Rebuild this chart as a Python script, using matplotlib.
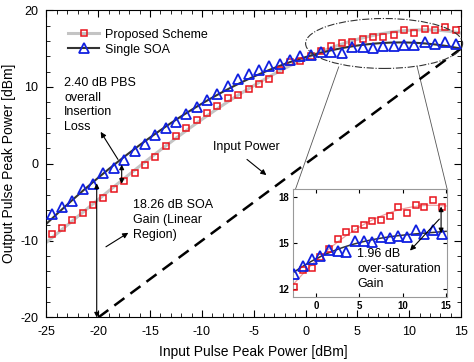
import numpy as np
import matplotlib
matplotlib.use("Agg")
import matplotlib.pyplot as plt
from matplotlib.patches import Ellipse
from matplotlib.lines import Line2D
from matplotlib.ticker import MultipleLocator

plt.rcParams['font.family'] = ['Liberation Sans', 'DejaVu Sans']
plt.rcParams['axes.unicode_minus'] = False

## data
p_in = [-24.5, -23.5, -22.5, -21.5, -20.5, -19.5, -18.5, -17.5, -16.5, -15.5,
        -14.5, -13.5, -12.5, -11.5, -10.5, -9.5, -8.5, -7.5, -6.5, -5.5,
        -4.5, -3.5, -2.5, -1.5, -0.5, 0.5, 1.5, 2.5, 3.5, 4.5,
        5.5, 6.5, 7.5, 8.5, 9.5, 10.5, 11.5, 12.5, 13.5, 14.5]
proposed = [-9.1, -8.4, -7.3, -6.4, -5.3, -4.4, -3.3, -2.3, -1.25, -0.17,
            0.95, 2.3, 3.6, 4.7, 5.7, 6.55, 7.55, 8.5, 8.9, 9.7,
            10.4, 11.0, 12.17, 13.26, 13.41, 14.09, 14.65, 15.28, 15.76, 15.91,
            16.2, 16.47, 16.52, 16.8, 17.37, 17.0, 17.48, 17.39, 17.8, 17.35]
single_soa = [-6.5, -5.67, -4.85, -3.33, -2.68, -1.25, -0.56, 0.48, 1.7, 2.56,
              3.73, 4.6, 5.38, 6.42, 7.33, 8.24, 9.06, 10.14, 11.1, 11.66,
              12.18, 12.7, 13.0, 13.52, 13.98, 14.17, 14.56, 14.52, 14.43, 15.15,
              15.17, 15.1, 15.39, 15.37, 15.48, 15.43, 15.87, 15.59, 15.87, 15.59]
input_line = [-20, 15]

x = np.array(p_in)
y_prop = np.array(proposed)
y_soa = np.array(single_soa)

red = '#e8141c'
blue = '#1020e0'
gray = '#c4c4c4'
dark = '#333333'

fig = plt.figure(figsize=(4.74, 3.62), dpi=100)
ax = fig.add_axes([0.098, 0.123, 0.8746, 0.849])

# fitted trend lines
xx = np.linspace(-25, 15, 200)
ax.plot(xx, np.polyval(np.polyfit(x, y_prop, 3), xx), color=gray, lw=2.2, zorder=2)
ax.plot(xx, np.polyval(np.polyfit(x, y_soa, 3), xx), color=dark, lw=1.5, zorder=2)
ax.plot(x, y_prop, 's', ms=5, mfc='none', mec=red, mew=1.1, zorder=3)
ax.plot(x, y_soa, '^', ms=6.5, mfc='none', mec=blue, mew=1.3, zorder=3)
ax.plot(input_line, input_line, color='k', lw=1.8, ls=(0, (5, 3)), zorder=2)

ax.set_xlim(-25, 15)
ax.set_ylim(-20, 20)
ax.set_xticks([-25, -20, -15, -10, -5, 0, 5, 10, 15])
ax.set_yticks([-20, -10, 0, 10, 20])
ax.xaxis.set_minor_locator(MultipleLocator(1))
ax.yaxis.set_minor_locator(MultipleLocator(2))
ax.tick_params(which='both', direction='in', top=True, right=True, labelsize=9, pad=6)
ax.tick_params(which='major', length=5)
ax.tick_params(which='minor', length=3)
ax.set_xlabel('Input Pulse Peak Power [dBm]', fontsize=10, labelpad=5)
ax.set_ylabel('Output Pulse Peak Power [dBm]', fontsize=10, labelpad=3)

leg_handles = [
    Line2D([], [], color=gray, lw=2.2, marker='s', ms=5, mfc='none', mec=red, mew=1.1),
    Line2D([], [], color=dark, lw=1.5, marker='^', ms=6.5, mfc='none', mec=blue, mew=1.3),
]
ax.legend(leg_handles, ['Proposed Scheme', 'Single SOA'], loc='upper left',
          bbox_to_anchor=(0.037, 0.96), frameon=False, fontsize=9, borderpad=0,
          handlelength=2.5, handletextpad=0.45, labelspacing=0.25)

# annotations
arr = dict(arrowstyle='-|>', lw=0.8, color='k', mutation_scale=8, shrinkA=0, shrinkB=0)
arr2 = dict(arrowstyle='<|-|>', lw=0.8, color='k', mutation_scale=7, shrinkA=0, shrinkB=0)
ax.text(-23.28, 11.3, '2.40 dB PBS\noverall\nInsertion\nLoss', fontsize=9, va='top', linespacing=1.3)
ax.annotate('', xy=(-19.77, 4.16), xytext=(-18.1, 0.57), arrowprops=arr)
ax.annotate('', xy=(-17.74, -0.1), xytext=(-17.74, -2.6), arrowprops=arr2)
ax.annotate('', xy=(-20.15, -2.55), xytext=(-20.15, -20), arrowprops=arr2)
ax.text(-16.62, -4.6, '18.26 dB SOA\nGain (Linear\nRegion)', fontsize=9, va='top', linespacing=1.3)
ax.annotate('', xy=(-17.1, -8.98), xytext=(-19.26, -10.8), arrowprops=arr)
ax.text(-8.96, 2.17, 'Input Power', fontsize=9, va='center')
ax.annotate('', xy=(-3.78, -1.47), xytext=(-5.65, 0.57), arrowprops=arr)

# zoom ellipse and connector lines
ax.add_patch(Ellipse((7.58, 15.66), 15.15, 6.5, fill=False, ls='-.', lw=0.8,
                     ec='#333333', clip_on=False, zorder=4))
ax.plot([3.2, -0.97], [12.61, -3.3], color='#555555', lw=0.6, zorder=1)
ax.plot([10.76, 13.66], [12.7, -3.3], color='#555555', lw=0.6, zorder=1)

# inset
ins = fig.add_axes([0.619, 0.1796, 0.324, 0.297])
sel = x > -3
xi = np.linspace(-2.6, 15, 100)
ins.plot(xi, np.polyval(np.polyfit(x[sel], y_prop[sel], 2), xi), color='#eaa0a0', lw=0.9, zorder=2)
ins.plot(xi, np.polyval(np.polyfit(x[sel], y_soa[sel], 3), xi), color=dark, lw=1.1, zorder=2)
ins.plot(x[sel], y_prop[sel], 's', ms=5, mfc='none', mec=red, mew=1.1, zorder=3)
ins.plot(x[sel], y_soa[sel], '^', ms=6.5, mfc='none', mec=blue, mew=1.3, zorder=3)
ins.set_xlim(-2.6, 15.1)
ins.set_ylim(11.5, 18.5)
ins.set_xticks([0, 5, 10, 15])
ins.set_yticks([12, 15, 18])
ins.tick_params(direction='in', top=True, right=True, length=3, labelsize=7, pad=3)
for lab in ins.get_xticklabels() + ins.get_yticklabels():
    lab.set_fontweight('bold')
for sp in ins.spines.values():
    sp.set_color('#999999')
ins.text(4.76, 14.67, '1.96 dB\nover-saturation\nGain', fontsize=9, va='top', linespacing=1.3)
ins.annotate('', xy=(14.42, 17.39), xytext=(14.42, 15.65), arrowprops=arr2)
ins.annotate('', xy=(10.84, 14.52), xytext=(14.22, 16.57), arrowprops=arr)

fig.savefig('out.png', dpi=100)
